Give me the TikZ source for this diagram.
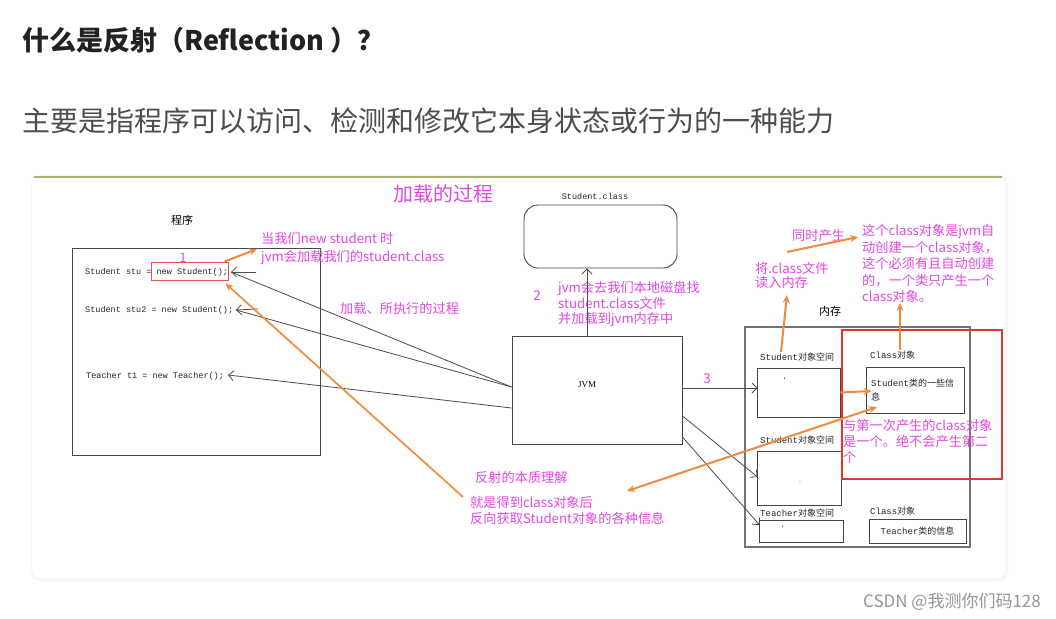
\documentclass[tikz,border=0pt]{standalone}
\usepackage{fontspec}
\setmainfont{Noto Sans CJK SC}
\newfontfamily\codef{Liberation Mono}
\newfontfamily\serf{Liberation Serif}
\usetikzlibrary{arrows.meta,calc}
\definecolor{mag}{RGB}{226,72,226}
\definecolor{org}{RGB}{240,138,60}
\definecolor{redb}{RGB}{226,52,52}
\definecolor{boxc}{RGB}{70,70,70}
\definecolor{titlec}{RGB}{34,34,34}
\definecolor{subc}{RGB}{77,77,77}
\definecolor{olivel}{RGB}{172,176,112}
\definecolor{wmc}{RGB}{150,150,150}
\tikzset{
  bx/.style={draw=boxc,line width=0.9pt,inner sep=0pt},
  mtxt/.style={text=mag,font=\fontsize{13.2}{16}\selectfont,inner sep=0pt,anchor=base west},
  ctxt/.style={text=black!85,font=\codef\fontsize{8.5}{10}\selectfont,inner sep=0pt,anchor=base west},
  ltxt/.style={text=black!85,font=\fontsize{9}{10}\selectfont,inner sep=0pt,anchor=base west},
  blk/.style={draw=black!70,line width=0.8pt},
  barb/.style={-{Straight Barb[length=5pt,width=10pt]}},
  oarr/.style={draw=org,line width=2pt,-{Stealth[length=8pt,width=7pt]}},
}
\begin{document}
\begin{tikzpicture}[x=1pt,y=-1pt]
\useasboundingbox (0,0) rectangle (1056,618);
\fill[white] (0,0) rectangle (1056,618);
% card
\fill[black!3,rounded corners=9] (31,175) rectangle (1008,581);
\fill[white,rounded corners=8] (32,176) rectangle (1005,578);
\draw[olivel,line width=1.6pt] (34,176.8) -- (1002,176.8);

% header texts
\node[anchor=base west,inner sep=0pt,text=titlec,font=\bfseries\fontsize{27}{30}\selectfont] (title) at (22,50) {什么是反射（Reflection ）？};
\node[anchor=base west,inner sep=0pt,text=subc,font=\fontsize{28}{32}\selectfont] (sub) at (22,131) {主要是指程序可以访问、检测和修改它本身状态或行为的一种能力};

% title of figure
\node[text=mag,font=\fontsize{20}{22}\selectfont,inner sep=0pt,anchor=base] (load) at (443,201) {加载的过程};

% program box
\node[font=\fontsize{11}{12}\selectfont,inner sep=0pt] (prgl) at (182,220) {程序};
\node[bx,minimum width=248pt,minimum height=207pt] (prog) at (196,351.5) {};
\node[ctxt] (c1) at (85,274) {Student stu = new Student();};
\node[ctxt] (c2) at (85,312) {Student stu2 = new Student();};
\node[ctxt] (c3) at (86,378) {Teacher t1 = new Teacher();};
\node[draw=redb!85,line width=0.9pt,inner sep=0pt,minimum width=77pt,minimum height=18pt] (rs) at (189.5,271) {};
\node[text=mag,font=\fontsize{13}{14}\selectfont,inner sep=0pt] (n1) at (183,258) {1};
\node[mtxt] (t1a) at (261,243) {当我们new student 时};
\node[mtxt] (t1b) at (261,261) {jvm会加载我们的student.class};
\node[mtxt] (t2) at (340,313) {加载、所执行的过程};

% Student.class
\node[ctxt,anchor=center] (scl) at (595,196) {Student.class};
\node[bx,rounded corners=14pt,minimum width=153pt,minimum height=63pt] (sc) at (600.5,236.5) {};
\node[text=mag,font=\fontsize{13.5}{16}\selectfont,inner sep=0pt] (n2) at (537,296) {2};
\node[mtxt] (t3a) at (558,292) {jvm会去我们本地磁盘找};
\node[mtxt] (t3b) at (558,308) {student.class文件};
\node[mtxt] (t3c) at (558,323) {并加载到jvm内存中};

% JVM
\node[bx,minimum width=170pt,minimum height=108pt] (jvm) at (597,390) {};
\node[font=\serf\fontsize{9}{10}\selectfont,inner sep=0pt] (jvml) at (587,385) {JVM};
\node[text=mag,font=\fontsize{13.5}{16}\selectfont,inner sep=0pt] (n3) at (707,379) {3};

% memory
\node[font=\fontsize{11}{12}\selectfont,inner sep=0pt] (meml) at (830,311) {内存};
\node[draw=black!55,line width=1.3pt,inner sep=0pt,minimum width=225pt,minimum height=220pt] (mem) at (857.5,437) {};
\node[ltxt] (l1) at (760,360) {{\codef Student}对象空间};
\node[bx,minimum width=83pt,minimum height=49pt] (sp1) at (798.5,392.5) {};
\node[ltxt] (l2) at (760,443) {{\codef Student}对象空间};
\node[bx,minimum width=84pt,minimum height=54pt] (sp2) at (799,478) {};
\node[ltxt] (l3) at (760,516) {{\codef Teacher}对象空间};
\node[bx,minimum width=84pt,minimum height=22pt] (sp3) at (801,531) {};
\node[ltxt] (l4) at (870,358) {{\codef Class}对象};
\node[bx,minimum width=98pt,minimum height=46pt] (cls1) at (915,390) {};
\node[ltxt] (l5a) at (871,386) {{\codef Student}类的一些信};
\node[ltxt] (l5b) at (871,400) {息};
\node[ltxt] (l6) at (870,514) {{\codef Class}对象};
\node[bx,minimum width=97pt,minimum height=24pt] (cls2) at (917.5,531) {};
\node[ltxt,anchor=center] (l7) at (917.5,531) {{\codef Teacher}类的信息};
\node[font=\fontsize{7}{8}\selectfont,inner sep=0pt] (d1) at (782,381) {`};
\node[font=\fontsize{7}{8}\selectfont,inner sep=0pt] (d2) at (800,482) {.};
\node[font=\fontsize{7}{8}\selectfont,inner sep=0pt] (d3) at (780,529) {`};

% red box and its text
\node[draw=redb,line width=1.8pt,inner sep=0pt,minimum width=160pt,minimum height=149pt] (rb) at (922,404.5) {};
\node[mtxt] (t4a) at (843,430) {与第一次产生的class对象};
\node[mtxt] (t4b) at (843,446) {是一个。绝不会产生第二};
\node[mtxt] (t4c) at (843,462) {个};

% upper right texts
\node[mtxt] (t5a) at (755,273) {将.class文件};
\node[mtxt] (t5b) at (755,287) {读入内存};
\node[mtxt] (t6) at (792,240) {同时产生};
\node[mtxt] (t7a) at (862,235) {这个class对象是jvm自};
\node[mtxt] (t7b) at (862,252) {动创建一个class对象，};
\node[mtxt] (t7c) at (862,268) {这个必须有且自动创建};
\node[mtxt] (t7d) at (862,285) {的，一个类只产生一个};
\node[mtxt] (t7e) at (862,301) {class对象。};

% reflection texts
\node[mtxt] (t8a) at (475,482) {反射的本质理解};
\node[mtxt] (t8b) at (470,507) {就是得到class对象后};
\node[mtxt] (t8c) at (470,523) {反向获取Student对象的各种信息};

% watermark
\node[anchor=base east,inner sep=0pt,text=wmc,font=\fontsize{17}{20}\selectfont] (wm) at (1041,607) {CSDN @我测你们码128};

% ---- black connectors ----
\coordinate (jA) at ($(jvm.west)+(0,-3)$);
\coordinate (jB) at ($(jvm.west)+(0,18)$);
\coordinate (tA) at (231,272);
\coordinate (tB) at (236,310);
\coordinate (tC) at (228,375);
\coordinate (sA) at (256,272);
\coordinate (sB) at (258,309);
\draw[blk] (jA) -- (tA);
\draw[blk] (jA) -- (tB);
\draw[blk,barb] (sA) -- (tA);
\draw[blk,barb] (sB) -- (tB);
\draw[blk,barb] (jB) -- (tC);
\draw[blk,barb] ($(jvm.north)+(-10,0)$) -- ($(sc.south)+(-13.5,0)$);
\draw[blk,barb] ($(jvm.east)+(0,-2)$) -- ($(sp1.west)+(1,-4.5)$);
\draw[blk,barb] ($(jvm.east)+(0,26)$) -- ($(sp2.west)+(1,-1)$);
\draw[blk,barb] ($(jvm.east)+(0,47)$) -- ($(sp3.west)+(1,-6)$);

% ---- orange connectors ----
\coordinate (o1e) at (257,249);
\coordinate (o2s) at (463,497);
\coordinate (o4s) at (627,491);
\coordinate (o4e) at (877,407);
\coordinate (o5s) at (781,352);
\coordinate (o5e) at (787,295);
\coordinate (o6s) at (787,252);
\coordinate (o6e) at (858,237);
\coordinate (o7s) at (900,350);
\coordinate (o7e) at (900,303);
\draw[oarr] ($(rs.north east)+(-4,0)$) -- (o1e);
\draw[oarr,line width=1.7pt] (o2s) -- ($(rs.south east)+(-3,3)$);
\draw[oarr] (sp1.east) -- ($(cls1.west)+(6,1)$);
\draw[draw=org,line width=2pt,{Stealth[length=8pt,width=7pt]}-{Stealth[length=8pt,width=7pt]}] (o4s) -- (o4e);
\draw[oarr] (o5s) -- (o5e);
\draw[oarr] (o6s) -- (o6e);
\draw[oarr] (o7s) -- (o7e);
\end{tikzpicture}
\end{document}
